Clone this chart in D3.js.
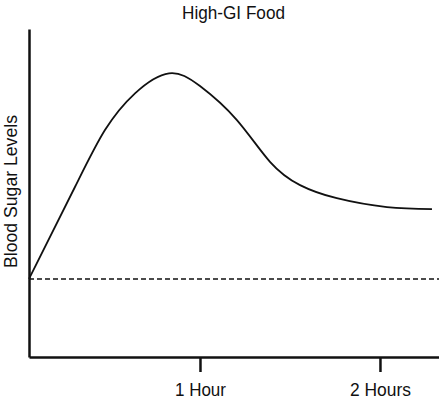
<!DOCTYPE html>
<html>
<head>
<meta charset="utf-8">
<script src="https://cdn.jsdelivr.net/npm/d3@7"></script>
<style>
  html, body { margin: 0; padding: 0; background: #fff; }
  svg { display: block; }
  text { font-family: "Liberation Sans", Arial, sans-serif; fill: #111; }
</style>
</head>
<body>
<script>
const title = "High-GI Food";
const yLabel = "Blood Sugar Levels";
const tickHours = [1, 2];
const tickLabels = ["1 Hour", "2 Hours"];
const hours = [0.05, 0.306, 0.472, 0.639, 0.828, 1.0, 1.204, 1.389, 1.556, 1.76, 2.039, 2.289];
const levels = [23.8, 51.9, 69.2, 80.4, 86.5, 82.6, 72.3, 59.5, 52.4, 48.4, 45.7, 45.1];
const baselineLevel = 23.8;

const W = 439, H = 400;
const svg = d3.select("body").append("svg").attr("width", W).attr("height", H);

const x = d3.scaleLinear().domain([0.05, 2.328]).range([29, 439]);
const y = d3.scaleLinear().domain([0, 100]).range([357, 29]);

// baseline dashed
svg.append("line")
  .attr("x1", x(0.05)).attr("x2", x(2.328))
  .attr("y1", y(baselineLevel)).attr("y2", y(baselineLevel))
  .attr("stroke", "#111").attr("stroke-width", 1.5)
  .attr("stroke-dasharray", "5,3");

// curve
const pts = hours.map((h, i) => [h, levels[i]]);
svg.append("path")
  .datum(pts)
  .attr("fill", "none")
  .attr("stroke", "#111")
  .attr("stroke-width", 1.8)
  .attr("d", d3.line().x(d => x(d[0])).y(d => y(d[1])).curve(d3.curveNatural));

// x axis
const xAxis = svg.append("g")
  .attr("transform", `translate(0,${y(0)})`)
  .call(d3.axisBottom(x).tickValues(tickHours).tickFormat((d, i) => tickLabels[i]).tickSize(15).tickSizeOuter(0));
xAxis.attr("font-family", null).attr("font-size", null);
xAxis.select(".domain").attr("stroke", "#111").attr("stroke-width", 2.5);
xAxis.selectAll(".tick line").attr("stroke", "#111").attr("stroke-width", 2.5);
xAxis.selectAll(".tick text")
  .attr("font-size", 19)
  .attr("fill", "#111")
  .attr("dy", null)
  .attr("y", 39)
  .attr("textLength", (d, i) => i === 0 ? 51 : 61)
  .attr("lengthAdjust", "spacingAndGlyphs");

// y axis
const yAxis = svg.append("g")
  .attr("transform", `translate(${x(0.05)},0)`)
  .call(d3.axisLeft(y).tickValues([]).tickSizeOuter(0));
yAxis.select(".domain").attr("stroke", "#111").attr("stroke-width", 2.5);

// title
svg.append("text")
  .attr("x", 233.5).attr("y", 18.5)
  .attr("text-anchor", "middle")
  .attr("font-size", 17.5)
  .attr("textLength", 103)
  .attr("lengthAdjust", "spacingAndGlyphs")
  .text(title);

// y label
svg.append("text")
  .attr("transform", "translate(17,191.5) rotate(-90)")
  .attr("text-anchor", "middle")
  .attr("font-size", 19)
  .attr("textLength", 153)
  .attr("lengthAdjust", "spacingAndGlyphs")
  .text(yLabel);
</script>
</body>
</html>
